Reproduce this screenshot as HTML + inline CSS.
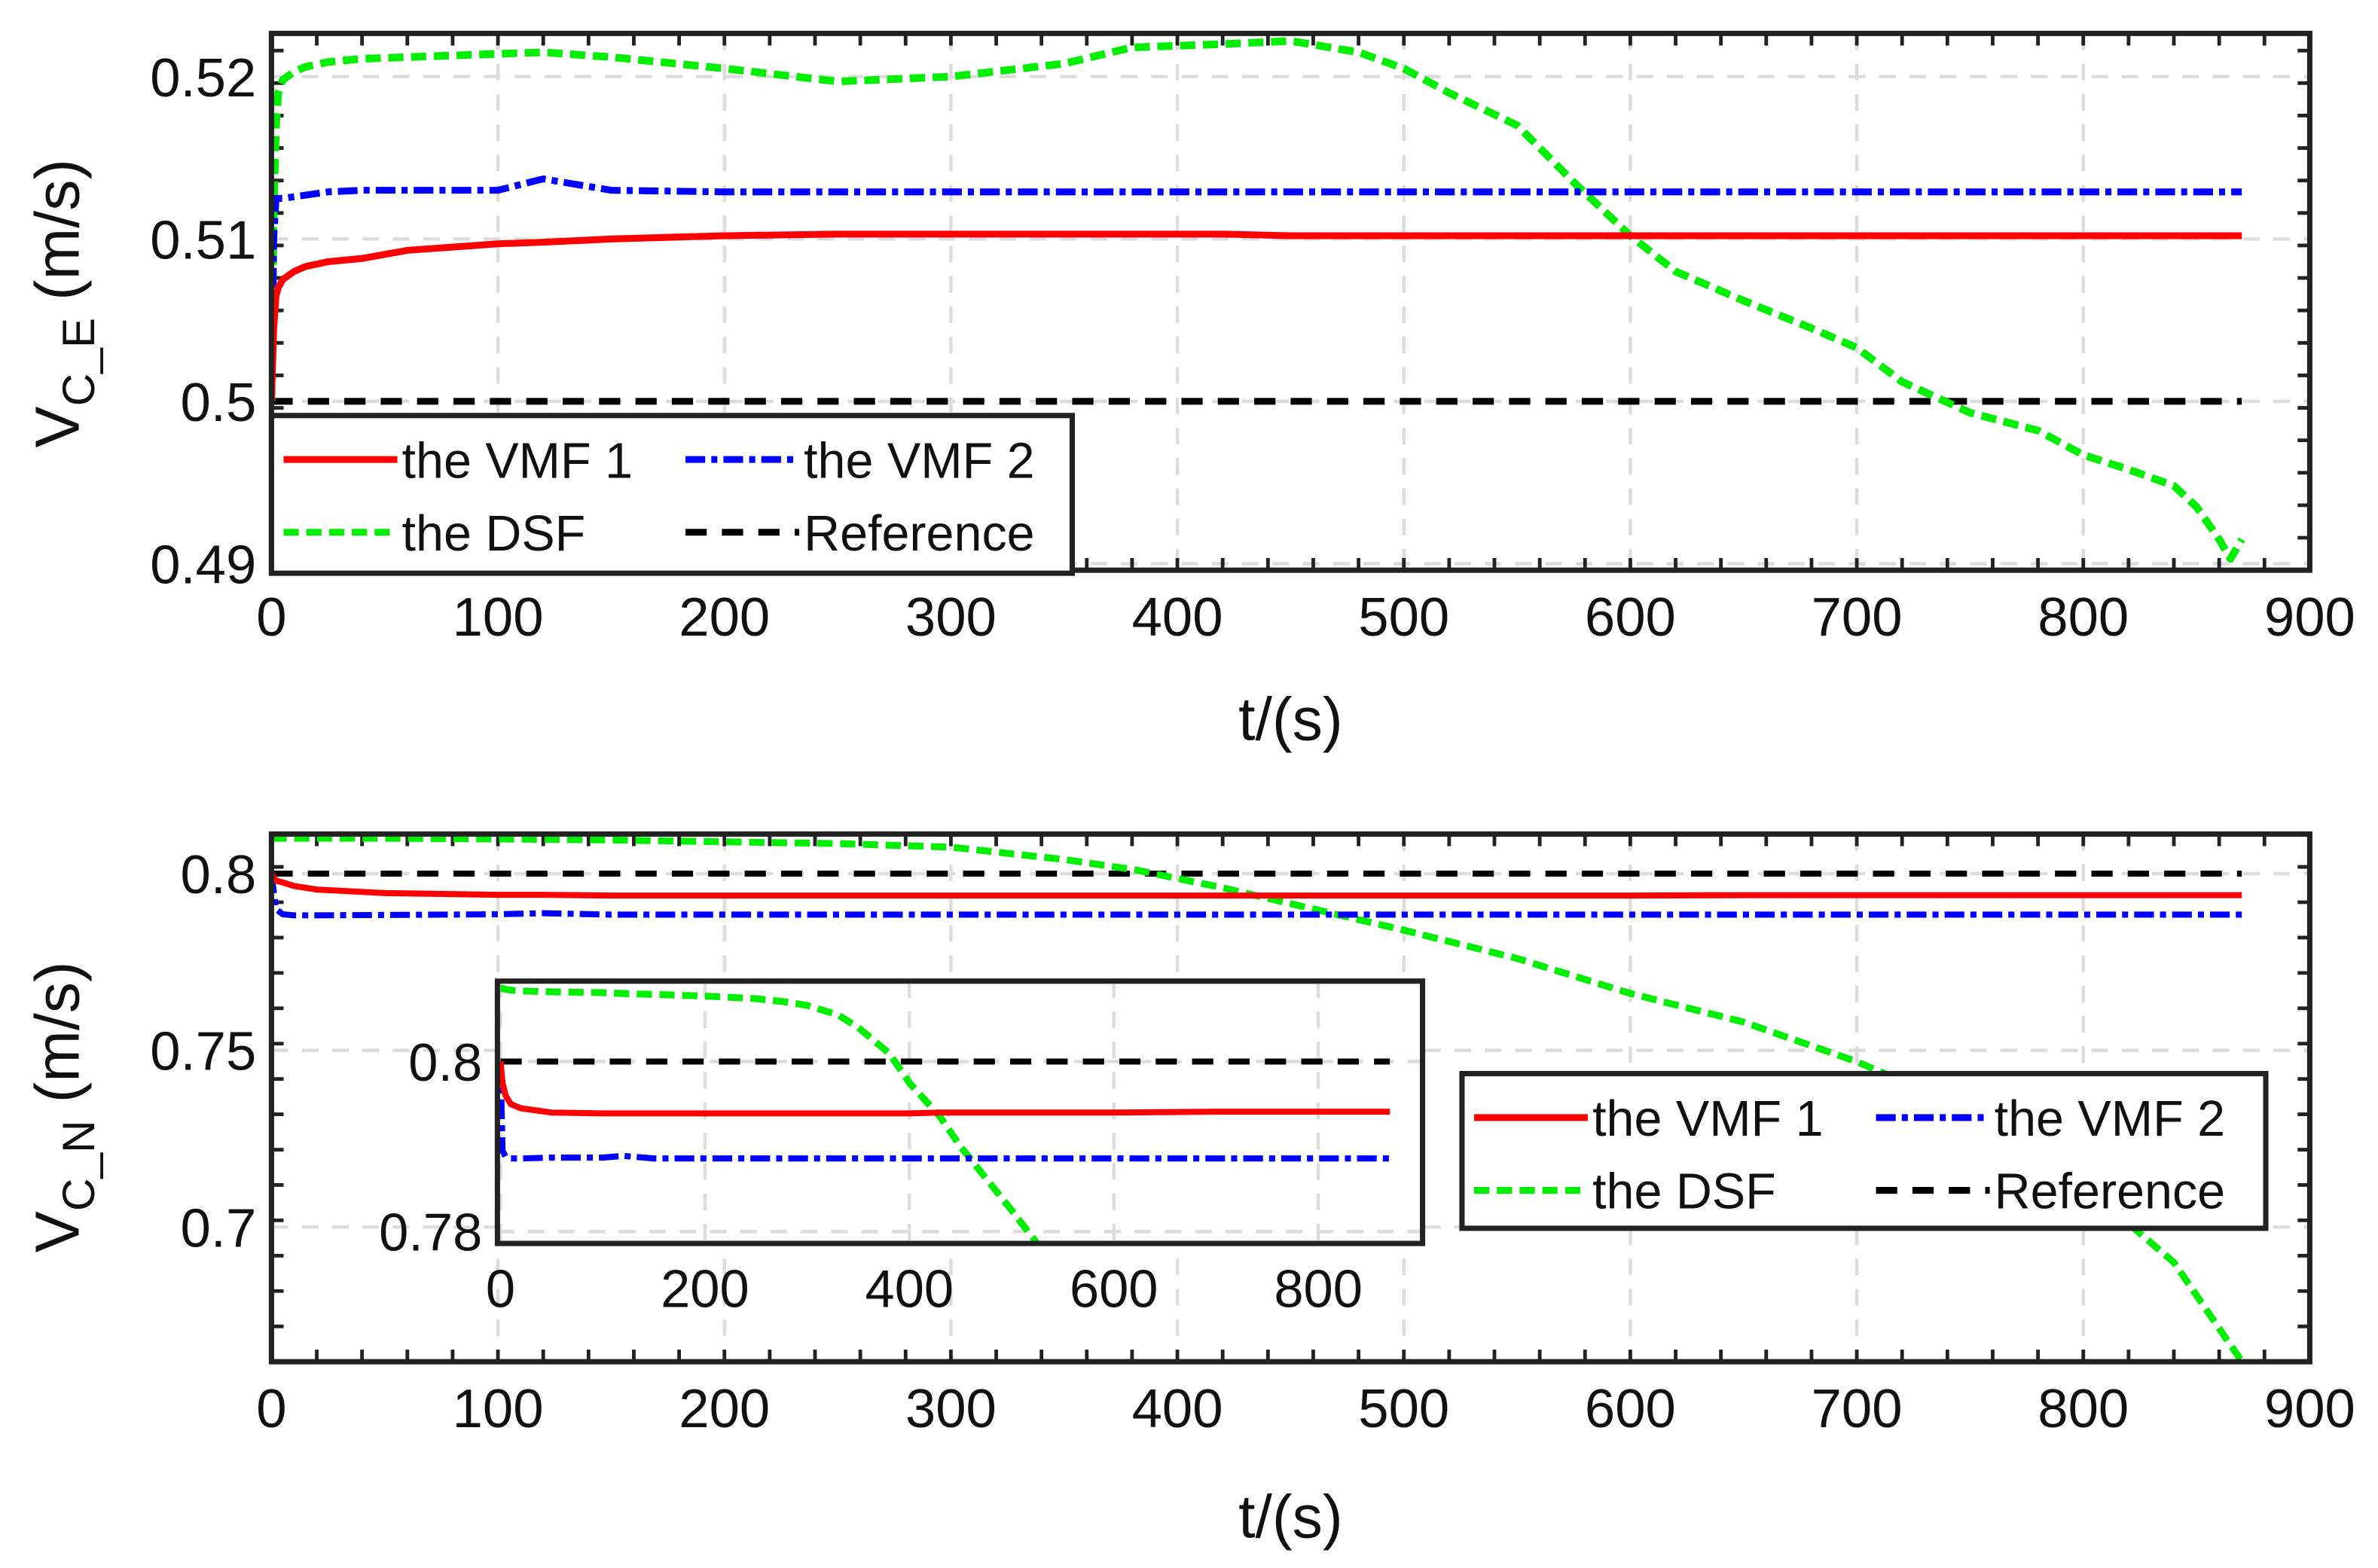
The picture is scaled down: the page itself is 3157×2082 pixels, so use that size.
<!DOCTYPE html>
<html><head><meta charset="utf-8"><style>
html,body{margin:0;padding:0;background:#fff;}
svg{display:block;}
text{font-family:"Liberation Sans",Arial,sans-serif;fill:#111;}
</style></head><body>
<svg id="chart" width="3157" height="2082" viewBox="0 0 1568 1034" xmlns="http://www.w3.org/2000/svg"></svg>
<script>
// ---- Top panel data ----
const topXTicks = [0,100,200,300,400,500,600,700,800,900];
const topYTicks = [0.49,0.50,0.51,0.52];
const topYLabels = ["0.49","0.5","0.51","0.52"];
const topT = [0,1,2,3,5,10,15,25,40,60,100,120,150,200,250,300,350,380,420,450,480,500,520,550,575,600,620,650,680,700,720,750,780,800,820,840,850,860,865,870];
const topVMF1 = [0.500,0.5045,0.5065,0.5070,0.5075,0.5080,0.5083,0.5086,0.5088,0.5093,0.5097,0.5098,0.5100,0.5102,0.5103,0.5103,0.5103,0.5103,0.5103,0.5102,0.5102,0.5102,0.5102,0.5102,0.5102,0.5102,0.5102,0.5102,0.5102,0.5102,0.5102,0.5102,0.5102,0.5102,0.5102,0.5102,0.5102,0.5102,0.5102,0.5102];
const topVMF2 = [0.500,0.510,0.5125,0.5125,0.5125,0.5126,0.5127,0.5129,0.5130,0.5130,0.5130,0.5137,0.5130,0.5129,0.5129,0.5129,0.5129,0.5129,0.5129,0.5129,0.5129,0.5129,0.5129,0.5129,0.5129,0.5129,0.5129,0.5129,0.5129,0.5129,0.5129,0.5129,0.5129,0.5129,0.5129,0.5129,0.5129,0.5129,0.5129,0.5129];
const topDSF = [0.500,0.512,0.5170,0.5190,0.5198,0.5203,0.5206,0.5209,0.5211,0.5212,0.5214,0.5215,0.5212,0.5205,0.5197,0.5200,0.5208,0.5218,0.5220,0.5222,0.5215,0.5205,0.5190,0.5170,0.5135,0.5102,0.5080,0.5062,0.5045,0.5033,0.5012,0.4993,0.4982,0.4967,0.4958,0.4948,0.4935,0.4915,0.4903,0.4915];
const topRef = 0.5;
// ---- Bottom panel data ----
const botXTicks = [0,100,200,300,400,500,600,700,800,900];
const botYTicks = [0.70,0.75,0.80];
const botYLabels = ["0.7","0.75","0.8"];
const botT = [0,2,5,10,20,50,100,120,150,200,250,300,350,382,420,456,500,550,600,650,700,750,800,840,870];
const botVMF1 = [0.800,0.798,0.7975,0.7965,0.7955,0.7945,0.7940,0.7940,0.7938,0.7938,0.7938,0.7938,0.7938,0.7938,0.7938,0.7938,0.7938,0.7938,0.7938,0.7939,0.7939,0.7939,0.7939,0.7939,0.7939];
const botVMF2 = [0.800,0.790,0.7885,0.7882,0.7882,0.7883,0.7885,0.7888,0.7884,0.7884,0.7884,0.7884,0.7884,0.7884,0.7884,0.7884,0.7884,0.7884,0.7884,0.7884,0.7884,0.7884,0.7884,0.7884,0.7884];
const botDSF = [0.810,0.810,0.810,0.810,0.810,0.810,0.8098,0.8097,0.8095,0.8090,0.8085,0.8075,0.8040,0.8010,0.7960,0.7906,0.7840,0.7760,0.7661,0.7580,0.7468,0.7330,0.7120,0.6900,0.6620];
const botRef = 0.8;
// ---- Inset data ----
const insXTicks = [0,200,400,600,800];
const insYTicks = [0.78,0.80];
const insYLabels = ["0.78","0.8"];
const insT = [0,2,5,10,20,50,100,120,150,200,250,280,300,330,350,380,400,430,450,480,500,525,600,700,800,870];
const insVMF1 = [0.800,0.7975,0.7960,0.7950,0.7945,0.7940,0.7939,0.7939,0.7939,0.7939,0.7939,0.7939,0.7939,0.7939,0.7939,0.7939,0.7939,0.7940,0.7940,0.7940,0.7940,0.7940,0.7940,0.7941,0.7941,0.7941];
const insVMF2 = [0.800,0.7895,0.7888,0.7886,0.7886,0.7887,0.7887,0.7889,0.7886,0.7886,0.7886,0.7886,0.7886,0.7886,0.7886,0.7886,0.7886,0.7886,0.7886,0.7886,0.7886,0.7886,0.7886,0.7886,0.7886,0.7886];
const insDSF = [0.8086,0.8086,0.8085,0.8084,0.8083,0.8082,0.8081,0.8080,0.8079,0.8077,0.8074,0.8070,0.8066,0.8055,0.8040,0.8010,0.7975,0.7935,0.7900,0.7855,0.7825,0.7786,null,null,null,null];
const insRef = 0.8;

const NS="http://www.w3.org/2000/svg";
const svg=document.getElementById('chart');
function el(tag,attrs,parent){const e=document.createElementNS(NS,tag);for(const k in attrs)e.setAttribute(k,attrs[k]);(parent||svg).appendChild(e);return e;}
function scale(d0,d1,r0,r1){return v=>r0+(v-d0)/(d1-d0)*(r1-r0);}

function drawSeries(g,T,V,sx,sy,color,dash,w,name){
  let d="";let pen=false;
  for(let i=0;i<T.length;i++){if(V[i]===null){pen=false;continue;}d+=(pen?"L":"M")+sx(T[i]).toFixed(2)+","+sy(V[i]).toFixed(2);pen=true;}
  const p=el('path',{d:d,fill:'none',stroke:color,'stroke-width':w,'stroke-dasharray':dash||'none','stroke-linejoin':'round'},g);
  
  
  return p;
}

function panel(o){
  const g=el('g',{});
  
  
  const sx=scale(o.x0,o.x1,o.L,o.R), sy=scale(o.y0,o.y1,o.B,o.T);
  el('rect',{x:o.L,y:o.T,width:o.R-o.L,height:o.B-o.T,fill:'#fff'},g);
  const clipId='clip'+o.name;
  const cp=el('clipPath',{id:clipId},g);el('rect',{x:o.L,y:o.T,width:o.R-o.L,height:o.B-o.T},cp);
  o.xTicks.forEach(t=>{const x=sx(t);if(x>o.L+1&&x<o.R-1){const l=el('line',{x1:x,x2:x,y1:o.T,y2:o.B,stroke:'#dcdcdc','stroke-width':2.2,'stroke-dasharray':'11,9'},g);}});
  o.yTicks.forEach(t=>{const y=sy(t);if(y>o.T+1&&y<o.B-1){const l=el('line',{x1:o.L,x2:o.R,y1:y,y2:y,stroke:'#dcdcdc','stroke-width':2.2,'stroke-dasharray':'11,9'},g);}});
  if(o.minorX){for(let t=o.x0;t<=o.x1;t+=o.minorX){const x=sx(t);el('line',{x1:x,x2:x,y1:o.T,y2:o.T+8,stroke:'#222','stroke-width':2.4},g);el('line',{x1:x,x2:x,y1:o.B,y2:o.B-8,stroke:'#222','stroke-width':2.4},g);}}
  if(o.minorY){for(let t=o.y0;t<=o.y1+1e-9;t+=o.minorY){const y=sy(t);if(y<o.T||y>o.B)continue;el('line',{x1:o.L,x2:o.L+8,y1:y,y2:y,stroke:'#222','stroke-width':2.4},g);el('line',{x1:o.R,x2:o.R-8,y1:y,y2:y,stroke:'#222','stroke-width':2.4},g);}}
  const sg=el('g',{'clip-path':'url(#'+clipId+')'},g);
  const rl=el('line',{x1:sx(0),x2:sx(870),y1:sy(o.ref),y2:sy(o.ref),stroke:'#000','stroke-width':o.lw,'stroke-dasharray':'14,10'},sg);
  
  drawSeries(sg,o.t,o.dsf,sx,sy,'#00ee00','10,5',o.lw+0.5,'dsf-line');
  drawSeries(sg,o.t,o.v2,sx,sy,'#0000ff','13,4,4,4',o.lw,'vmf2-line');
  drawSeries(sg,o.t,o.v1,sx,sy,'#ff0000',null,o.lw,'vmf1-line');
  const fr=el('rect',{x:o.L,y:o.T,width:o.R-o.L,height:o.B-o.T,fill:'none',stroke:'#222','stroke-width':3.5},g);
  
  o.xTicks.forEach(t=>{const tx=el('text',{x:sx(t),y:o.B+o.fs*1.2,'font-size':o.fs,'text-anchor':'middle'},g);tx.textContent=t;});
  o.yTicks.forEach((t,i)=>{const tx=el('text',{x:o.L-10,y:sy(t)+o.fs*0.36,'font-size':o.fs,'text-anchor':'end'},g);tx.textContent=o.yLabels[i];});
  return g;
}

function legend(x,y,w,h,name){
  const g=el('g',{});
  
  
  el('rect',{x:x,y:y,width:w,height:h,fill:'#fff',stroke:'#222','stroke-width':3.5},g);
  const items=[['the VMF 1','#ff0000',null,0,0],['the VMF 2','#0000ff','13,4,4,4',1,0],['the DSF','#00ee00','10,5',0,1],['Reference','#000','14,10',1,1]];
  items.forEach(it=>{
    const ox=x+8+it[3]*265, oy=y+29+it[4]*48;
    const ln=el('line',{x1:ox,x2:ox+75,y1:oy,y2:oy,stroke:it[1],'stroke-width':4.5,'stroke-dasharray':it[2]||'none'},g);
    
    const t=el('text',{x:ox+78,y:oy+12,'font-size':33},g);t.textContent=it[0];
    
  });
}

panel({name:'top-panel',L:179,R:1523,T:22,B:376,x0:0,x1:900,y0:0.48960,y1:0.52266,xTicks:topXTicks,yTicks:topYTicks,yLabels:topYLabels,minorX:20,minorY:0.002,t:topT,v1:topVMF1,v2:topVMF2,dsf:topDSF,ref:topRef,lw:4.5,fs:36});
legend(179,274,528,104,'top-legend');
let t1=el('text',{x:851,y:488,'font-size':40,'text-anchor':'middle'});t1.textContent='t/(s)';
let y1=el('text',{transform:'translate(52,200) rotate(-90)','font-size':41,'text-anchor':'middle'});y1.innerHTML='V<tspan font-size="30" dy="10">C_E</tspan><tspan dy="-10"> (m/s)</tspan>';

panel({name:'bottom-panel',L:179,R:1523,T:550,B:898,x0:0,x1:900,y0:0.6619,y1:0.8112,xTicks:botXTicks,yTicks:botYTicks,yLabels:botYLabels,minorX:20,minorY:0.01,t:botT,v1:botVMF1,v2:botVMF2,dsf:botDSF,ref:botRef,lw:4,fs:36});
let t2=el('text',{x:851,y:1014,'font-size':40,'text-anchor':'middle'});t2.textContent='t/(s)';
let y2=el('text',{transform:'translate(52,730) rotate(-90)','font-size':41,'text-anchor':'middle'});y2.innerHTML='V<tspan font-size="30" dy="10">C_N</tspan><tspan dy="-10"> (m/s)</tspan>';

panel({name:'inset-panel',L:328,R:938,T:647,B:820,x0:-3,x1:902,y0:0.7786,y1:0.80946,xTicks:insXTicks,yTicks:insYTicks,yLabels:insYLabels,minorX:0,minorY:0,t:insT,v1:insVMF1,v2:insVMF2,dsf:insDSF,ref:insRef,lw:4,fs:35});
legend(964,708,530,102,'bottom-legend');
</script>
</body></html>
